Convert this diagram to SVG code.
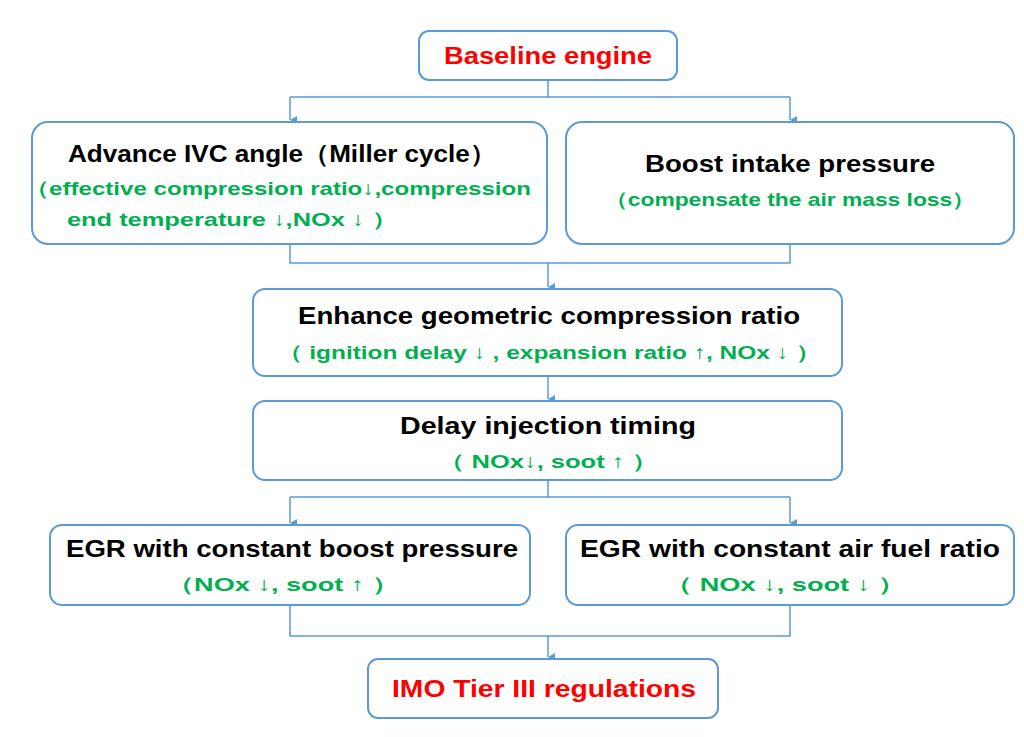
<svg xmlns="http://www.w3.org/2000/svg" width="1024" height="737" viewBox="0 0 1024 737">
<defs><marker id="a" markerWidth="8" markerHeight="8" refX="4" refY="7" orient="auto-start-reverse" markerUnits="userSpaceOnUse"><path d="M0,0 L8,0 L4,7 Z" fill="#5b9bd5"/></marker></defs>
<style>
rect{fill:#fff;stroke:#5b9bd5;stroke-width:2}
.c path{fill:none;stroke:#5b9bd5;stroke-width:1.5}
text{font-family:"Liberation Sans",Arial,sans-serif;font-weight:bold;text-anchor:middle}
.t{font-size:24px;fill:#000}
.g{font-size:19px;fill:#00b050}
.r{font-size:24px;fill:#ff0000}
</style>
<rect width="1024" height="737" style="stroke:none"/>
<g class="c">
<path d="M548,80 V97 M290,97 H790"/>
<path d="M290,97 V120" marker-end="url(#a)"/>
<path d="M790,97 V120" marker-end="url(#a)"/>
<path d="M290,244 V263 H790 V244"/>
<path d="M548,263 V287" marker-end="url(#a)"/>
<path d="M548,376 V399" marker-end="url(#a)"/>
<path d="M548,480 V497 M290,497 H790"/>
<path d="M290,497 V523" marker-end="url(#a)"/>
<path d="M790,497 V523" marker-end="url(#a)"/>
<path d="M290,605 V636 H790 V605"/>
<path d="M548,636 V657" marker-end="url(#a)"/>
</g>
<g id="baseline"><rect x="419" y="31" width="258" height="49" rx="10"/><text class="r" x="548" y="64" textLength="208" lengthAdjust="spacingAndGlyphs">Baseline engine</text></g>
<g id="ivc"><rect x="32" y="122" width="515" height="122" rx="16"/>
<text class="t" x="282" y="162" textLength="428" lengthAdjust="spacingAndGlyphs">Advance IVC angle（Miller cycle）</text>
<text class="g" x="278" y="195" textLength="506" lengthAdjust="spacingAndGlyphs">（effective compression ratio↓,compression</text>
<text class="g" x="232" y="226" textLength="330" lengthAdjust="spacingAndGlyphs">end temperature ↓,NOx ↓ ）</text></g>
<g id="boost"><rect x="566" y="122" width="448" height="122" rx="16"/>
<text class="t" x="790" y="172" textLength="290" lengthAdjust="spacingAndGlyphs">Boost intake pressure</text>
<text class="g" x="790" y="206" textLength="370" lengthAdjust="spacingAndGlyphs">（compensate the air mass loss）</text></g>
<g id="enhance"><rect x="253" y="289" width="589" height="87" rx="12"/>
<text class="t" x="549" y="324" textLength="502" lengthAdjust="spacingAndGlyphs">Enhance geometric compression ratio</text>
<text class="g" x="549" y="359" textLength="542" lengthAdjust="spacingAndGlyphs">（ ignition delay ↓ , expansion ratio ↑, NOx ↓ ）</text></g>
<g id="delay"><rect x="253" y="401" width="589" height="79" rx="12"/>
<text class="t" x="548" y="434" textLength="296" lengthAdjust="spacingAndGlyphs">Delay injection timing</text>
<text class="g" x="548" y="468" textLength="218" lengthAdjust="spacingAndGlyphs">（ NOx↓, soot ↑ ）</text></g>
<g id="egr1"><rect x="50" y="525" width="480" height="80" rx="12"/>
<text class="t" x="292" y="557" textLength="452" lengthAdjust="spacingAndGlyphs">EGR with constant boost pressure</text>
<text class="g" x="283" y="591" textLength="232" lengthAdjust="spacingAndGlyphs">（NOx ↓, soot ↑ ）</text></g>
<g id="egr2"><rect x="566" y="525" width="448" height="80" rx="12"/>
<text class="t" x="790" y="557" textLength="420" lengthAdjust="spacingAndGlyphs">EGR with constant air fuel ratio</text>
<text class="g" x="785" y="591" textLength="240" lengthAdjust="spacingAndGlyphs">（ NOx ↓, soot ↓ ）</text></g>
<g id="imo"><rect x="368" y="659" width="350" height="59" rx="10"/><text class="r" x="544" y="697" textLength="304" lengthAdjust="spacingAndGlyphs">IMO Tier III regulations</text></g>
</svg>
